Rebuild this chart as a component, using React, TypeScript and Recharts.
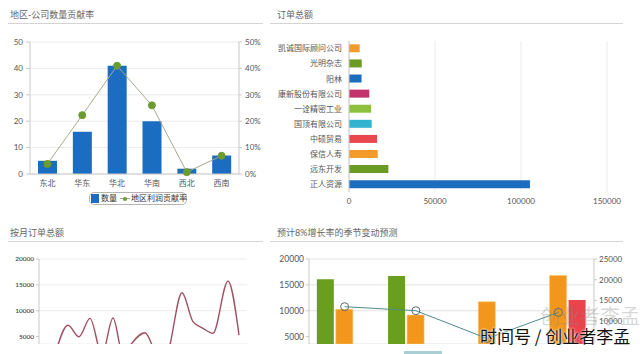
import {
  ComposedChart,
  BarChart,
  LineChart,
  Bar,
  Line,
  XAxis,
  YAxis,
  CartesianGrid,
  Cell,
} from 'recharts';

const FONT = "Lato, 'Noto Sans CJK SC', sans-serif";
const AXIS = '#c9c9c9';
const GRID = '#ececec';
const TEXT = '#555';

// 地区-公司数量贡献率
const regions = ['东北', '华东', '华北', '华南', '西北', '西南'];
const companyCounts = [5, 16, 41, 20, 2, 7];
const profitShares = [3.8, 22.3, 41, 26, 0.7, 6.9];
const leftTicks = [0, 10, 20, 30, 40, 50];

// 订单总额
const customers = ['凯诚国际顾问公司', '光明杂志', '阳林', '康新股份有限公司', '一诠精密工业', '国顶有限公司', '中硕贸易', '保信人寿', '远东开发', '正人资源'];
const orderTotals = [6200, 7400, 7300, 11800, 12800, 13200, 16300, 16700, 22900, 105200];
const customerColors = ['#f29b2a', '#6b9b22', '#1d6dbf', '#c3336c', '#8dc03f', '#34b2d1', '#e8474e', '#f29b2a', '#6b9b22', '#1d6dbf'];
const totalTicks = [0, 50000, 100000, 150000];

// 按月订单总额
const orderDays = [16, 29, 40, 51, 63, 74, 84, 89, 106, 119, 127, 143, 154, 164, 174, 189, 200];
const orderAmounts = [1500, 7180, 4980, 8530, 1500, 8590, 1500, 2800, 5750, 1500, 1500, 13470, 7880, 6600, 5640, 15730, 5300];
const amountTicks = [5000, 10000, 15000, 20000];

// 预计8%增长率的季节变动预测
const quarters = ['Q1', 'Q2', 'Q3', 'Q4'];
const seriesGreen = [16100, 16700, null, null];
const seriesOrange = [10270, 9170, 11740, 16830];
const seriesRed = [null, null, null, 12070];
const forecast = [13480, 12510, 5800, 12100];
const rightTicks = [5000, 10000, 15000, 20000, 25000];

const regionData = regions.map((r, i) => ({ region: r, count: companyCounts[i], share: profitShares[i] }));
const customerData = customers.map((c, i) => ({ name: c, total: orderTotals[i] }));
const monthlyData = orderDays.map((d, i) => ({ day: d, amount: orderAmounts[i] }));
const seasonData = quarters.map((q, i) => ({
  quarter: q,
  green: seriesGreen[i],
  orange: seriesOrange[i],
  red: seriesRed[i],
  forecast: forecast[i],
}));

function PanelHead({ left, top, lineLeft, lineRight, text }: { left: number; top: number; lineLeft: number; lineRight: number; text: string }) {
  return (
    <>
      <div style={{ position: 'absolute', left, top, fontSize: 9, lineHeight: '10px', color: '#666', whiteSpace: 'nowrap' }}>{text}</div>
      <div style={{ position: 'absolute', left: lineLeft, top: top + 13, width: lineRight - lineLeft, borderTop: '1px solid #d4d4d4' }} />
    </>
  );
}

export default function App() {
  return (
    <div style={{ position: 'fixed', left: 0, top: 0, width: 640, height: 354, overflow: 'hidden', background: '#fff', fontFamily: FONT }}>
      <PanelHead left={10} top={10} lineLeft={8} lineRight={263} text="地区-公司数量贡献率" />
      <PanelHead left={277} top={10} lineLeft={270} lineRight={623} text="订单总额" />
      <PanelHead left={10} top={228} lineLeft={8} lineRight={263} text="按月订单总额" />
      <PanelHead left={277} top={228} lineLeft={270} lineRight={623} text="预计8%增长率的季节变动预测" />

      {/* 地区-公司数量贡献率 */}
      <div style={{ position: 'absolute', left: 0, top: 0 }}>
        <ComposedChart width={270} height={194} data={regionData} margin={{ top: 42, right: 0, bottom: 0, left: 0 }} barCategoryGap="23%">
          <CartesianGrid vertical={false} stroke={GRID} yAxisId="left" />
          <XAxis dataKey="region" interval={0} height={20} axisLine={{ stroke: AXIS }} tickLine={false} tickSize={4} tickMargin={2} tick={{ fontSize: 8, fill: TEXT }} />
          <YAxis yAxisId="left" domain={[0, 50]} ticks={leftTicks} width={30} axisLine={{ stroke: AXIS }} tickLine={{ stroke: AXIS }} tickSize={4} tickMargin={3} tick={{ fontSize: 8, fill: TEXT }} />
          <YAxis yAxisId="right" orientation="right" domain={[0, 50]} ticks={leftTicks} tickFormatter={(v) => `${v}%`} width={31} axisLine={{ stroke: AXIS }} tickLine={{ stroke: AXIS }} tickSize={3} tickMargin={3} tick={{ fontSize: 8, fill: TEXT }} />
          <Bar yAxisId="left" dataKey="count" fill="#1b6dc1" isAnimationActive={false} />
          <Line yAxisId="right" type="linear" dataKey="share" stroke="#aaa98c" strokeWidth={1} dot={{ r: 3.5, fill: '#6c9b30', stroke: '#6c9b30' }} isAnimationActive={false} />
        </ComposedChart>
      </div>
      {/* 图例 */}
      <div style={{ position: 'absolute', left: 89, top: 192, width: 96, height: 11, border: '1px solid #b5b5b5', borderRadius: 5, fontSize: 8, lineHeight: '11px', color: '#333', whiteSpace: 'nowrap' }}>
        <span style={{ position: 'absolute', left: 1, top: 1, width: 8, height: 9, background: '#1b6dc1' }} />
        <span style={{ position: 'absolute', left: 11 }}>数量</span>
        <span style={{ position: 'absolute', left: 30, top: 5, width: 10, borderTop: '1px solid #aaa98c' }} />
        <span style={{ position: 'absolute', left: 33, top: 3.5, width: 4, height: 4, borderRadius: 2, background: '#6c9b30' }} />
        <span style={{ position: 'absolute', left: 41 }}>地区利润贡献率</span>
      </div>

      {/* 订单总额 */}
      <div style={{ position: 'absolute', left: 260, top: 0 }}>
        <BarChart layout="vertical" width={380} height={212} data={customerData} margin={{ top: 41, right: 33, bottom: 0, left: 0 }} barCategoryGap="22%">
          <CartesianGrid horizontal={false} stroke={GRID} />
          <XAxis type="number" domain={[0, 150000]} ticks={totalTicks} height={20} axisLine={false} tickLine={false} tickSize={4} tickMargin={2} tick={{ fontSize: 8, fill: TEXT }} />
          <YAxis type="category" dataKey="name" interval={0} width={89} axisLine={{ stroke: AXIS }} tickLine={false} tickSize={5} tickMargin={2} tick={{ fontSize: 8, fill: TEXT }} />
          <Bar dataKey="total" isAnimationActive={false}>
            {customerData.map((c, i) => (
              <Cell key={c.name} fill={customerColors[i]} />
            ))}
          </Bar>
        </BarChart>
      </div>

      {/* 按月订单总额 */}
      <div style={{ position: 'absolute', left: 0, top: 240 }}>
        <LineChart width={270} height={104} data={monthlyData} margin={{ top: 19, right: 23, bottom: 0, left: 0 }}>
          <CartesianGrid vertical={false} stroke={GRID} />
          <XAxis type="number" dataKey="day" domain={[0, 208]} hide />
          <YAxis domain={[3570, 20000]} ticks={amountTicks} allowDataOverflow width={39} axisLine={{ stroke: AXIS }} tickLine={{ stroke: AXIS }} tickSize={3} tickMargin={2} tick={{ fontSize: 6.5, fill: '#444', fontWeight: 600 }} />
          <Line type="monotone" dataKey="amount" stroke="#a04f60" strokeWidth={1.4} dot={false} isAnimationActive={false} />
        </LineChart>
      </div>

      {/* 预计8%增长率的季节变动预测 */}
      <div style={{ position: 'absolute', left: 270, top: 240 }}>
        <ComposedChart width={370} height={104} data={seasonData} margin={{ top: 19, right: 0, bottom: 0, left: 0 }} barCategoryGap="11%" barGap={2}>
          <CartesianGrid vertical={false} stroke="#e2e2e2" yAxisId="left" />
          <XAxis dataKey="quarter" hide />
          <YAxis yAxisId="left" domain={[3570, 20000]} ticks={amountTicks} allowDataOverflow width={39} axisLine={{ stroke: AXIS }} tickLine={{ stroke: AXIS }} tickSize={3} tickMargin={2} tick={{ fontSize: 8.5, fill: TEXT }} />
          <YAxis yAxisId="right" orientation="right" domain={[4470, 25000]} ticks={rightTicks} allowDataOverflow width={46} axisLine={{ stroke: AXIS }} tickLine={{ stroke: AXIS }} tickSize={3} tickMargin={2} tick={{ fontSize: 8, fill: TEXT }} />
          <Bar yAxisId="left" dataKey="green" fill="#6a9e1f" isAnimationActive={false} />
          <Bar yAxisId="left" dataKey="orange" fill="#f2971c" stroke="#f7c46a" strokeWidth={0.6} isAnimationActive={false} />
          <Bar yAxisId="left" dataKey="red" fill="#e9434b" isAnimationActive={false} />
          <Line yAxisId="right" type="linear" dataKey="forecast" stroke="#4f8c8c" strokeWidth={1} dot={{ r: 4, fill: 'none', stroke: '#5a6a6e', strokeWidth: 1 }} isAnimationActive={false} />
        </ComposedChart>
      </div>
      <div style={{ position: 'absolute', left: 404, top: 351, width: 38, height: 3, background: '#a7cfd4' }} />

      {/* 水印 */}
      <div style={{ position: 'absolute', left: 540, top: 304, fontSize: 20, lineHeight: '24px', color: 'rgba(140,140,140,0.35)', whiteSpace: 'nowrap', fontFamily: "'Noto Sans CJK SC'" }}>创业者李孟</div>
      <div style={{ position: 'absolute', left: 480, top: 326, fontSize: 17, lineHeight: '20px', color: '#111', whiteSpace: 'nowrap', fontFamily: "'Noto Sans CJK SC'", textShadow: '0 0 2px #fff, 0 0 2px #fff' }}>时间号 / 创业者李孟</div>
    </div>
  );
}
